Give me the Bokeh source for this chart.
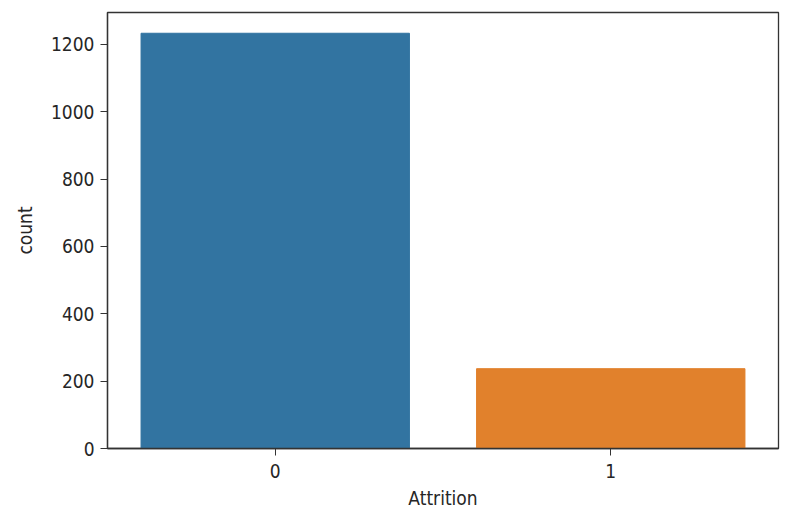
from bokeh.plotting import figure
from bokeh.models import FactorRange, Range1d, SingleIntervalTicker, ColumnDataSource
from bokeh.embed import file_html
from bokeh.resources import INLINE

# attrition counts (seaborn countplot)
labels = ["0", "1"]
counts = [1233, 237]
colors = ["#3274a1", "#e1812c"]

src = ColumnDataSource(data=dict(x=labels, top=counts, color=colors))

FONT = "DejaVu Sans Condensed"

p = figure(x_range=FactorRange(*labels), y_range=Range1d(0, max(counts) * 1.05),
           width=800, height=513, output_backend="svg", toolbar_location=None, tools="",
           min_border_left=107, min_border_right=22, min_border_top=12, min_border_bottom=65)
p.vbar(x="x", top="top", width=0.8, color="color", source=src)

p.xgrid.visible = False
p.ygrid.visible = False
p.outline_line_color = "#333333"
p.outline_line_width = 1.3
p.background_fill_color = "white"
p.border_fill_color = "white"

p.yaxis.ticker = SingleIntervalTicker(interval=200)
p.yaxis.minor_tick_line_color = None
p.xaxis.axis_label = "Attrition"
p.yaxis.axis_label = "count"
for ax in (p.xaxis, p.yaxis):
    ax.axis_line_color = "#333333"
    ax.axis_line_width = 1.3
    ax.major_tick_line_color = "#333333"
    ax.major_tick_in = 0
    ax.major_tick_out = 7
    ax.major_label_text_font = FONT
    ax.major_label_text_font_size = "19px"
    ax.major_label_text_color = "#262626"
    ax.axis_label_text_font = FONT
    ax.axis_label_text_font_size = "19px"
    ax.axis_label_text_font_style = "normal"
    ax.axis_label_text_color = "#262626"
p.yaxis.major_label_standoff = 6
p.yaxis.axis_label_standoff = 12
p.xaxis.major_label_standoff = 8
p.xaxis.axis_label_standoff = 6

open("out.html", "w").write(file_html(p, INLINE))
